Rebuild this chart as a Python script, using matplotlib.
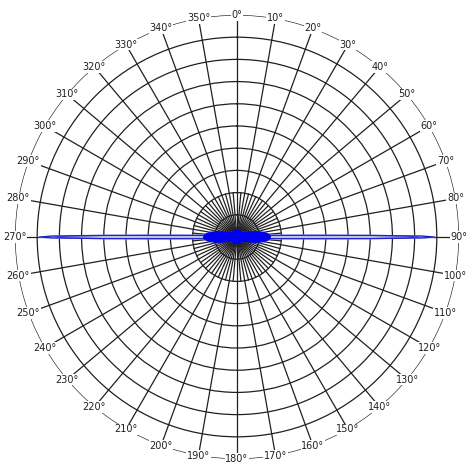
import numpy as np
import matplotlib
matplotlib.use("Agg")
import matplotlib.pyplot as plt

# lobe half (0..180 deg), mirrored for 180..360
half_deg = [0, 20, 40, 60, 70, 75, 80, 83, 85, 86, 87, 88, 88.7, 89.3, 89.7, 90,
            90.3, 90.7, 91.3, 92, 93, 94, 95, 97, 100, 105, 110, 120, 140, 160, 180]
half_r = [0.25, 0.27, 0.3, 0.35, 0.4, 0.45, 0.6, 0.8, 1.0, 1.2, 1.5, 2.2, 3.5, 6.0, 8.3, 8.9,
          8.3, 6.0, 3.5, 2.2, 1.5, 1.2, 1.0, 0.8, 0.6, 0.45, 0.4, 0.35, 0.3, 0.27, 0.25]
inner_scale = [0.92]
angle_labels = [f"{a}°" for a in range(0, 360, 10)]

deg = np.array(half_deg + [360 - d for d in half_deg[::-1]][1:])
r = np.array(half_r + half_r[::-1][1:])

fig = plt.figure(figsize=(4.74, 4.74), dpi=100)
ax = fig.add_axes([0.0316, 0.0316, 0.9368, 0.9368], projection='polar')
ax.set_theta_zero_location('N')
ax.set_theta_direction(-1)
ax.set_ylim(0, 10)

th = np.radians(deg)
ax.fill(th, r, color='#b8c4dc', zorder=3)
ax.plot(th, r, color='#2020d0', lw=0.9, zorder=4)
ax.plot(th, r * inner_scale[0], color='#2020d0', lw=0.5, zorder=4)
blob_t = np.radians(np.arange(0, 361, 2))
blob_r = 0.3 + 1.2 * np.abs(np.sin(blob_t)) ** 20
ax.fill(blob_t, blob_r, color='#0000ee', zorder=5)

ax.set_rgrids(np.arange(1, 11), labels=[''] * 10)
ax.set_thetagrids(np.arange(0, 360, 10), labels=[''] * 36)
ax.grid(True, color='#202020', lw=0.9)
ax.spines['polar'].set_visible(False)
for a in np.arange(5, 360, 10):
    ax.plot([np.radians(a)] * 2, [0, 2], color='#202020', lw=0.9, zorder=2)
for i, lab in enumerate(angle_labels):
    ax.text(np.radians(i * 10), 10, lab, ha='center', va='center', fontsize=7,
            color='#202020', zorder=6,
            bbox=dict(facecolor='white', edgecolor='none', pad=0.5), clip_on=False)

fig.savefig('out.png', dpi=100, facecolor='white')
